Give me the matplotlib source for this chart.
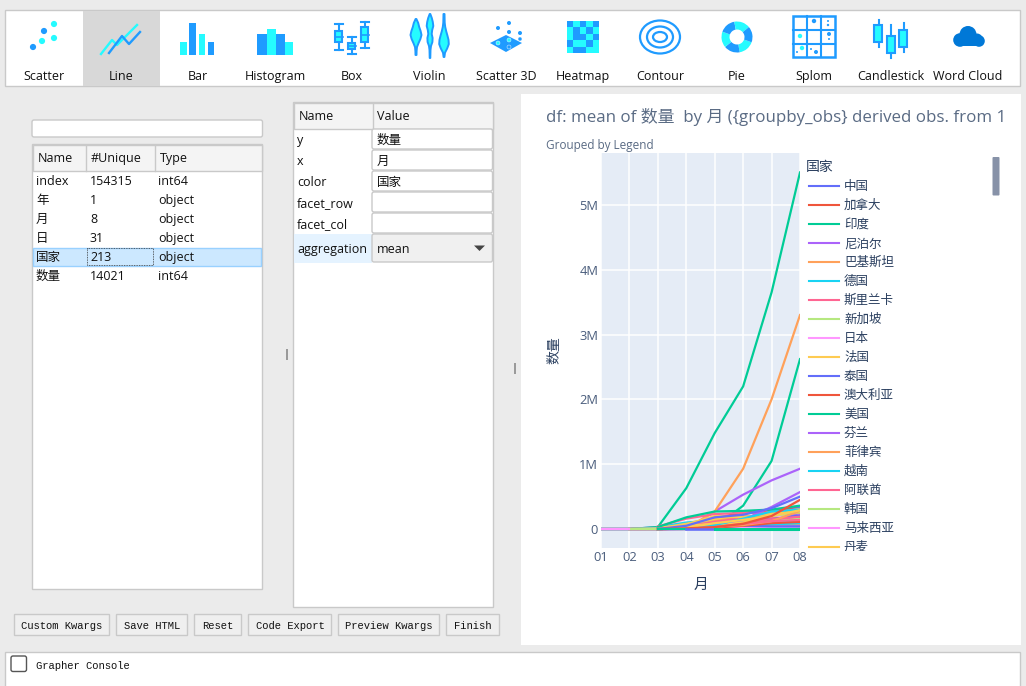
import numpy as np
import matplotlib
matplotlib.use('Agg')
import matplotlib.pyplot as plt
from matplotlib.patches import Rectangle, FancyBboxPatch, Circle, Ellipse, Polygon, Wedge

plt.rcParams['font.family'] = ['Open Sans', 'Noto Sans CJK SC', 'DejaVu Sans']

n = np.nan

# chart data, millions of cases per month
months = ['01', '02', '03', '04', '05', '06', '07', '08']
legend_names = ['中国', '加拿大', '印度', '尼泊尔', '巴基斯坦', '德国', '斯里兰卡', '新加坡', '日本', '法国',
                '泰国', '澳大利亚', '美国', '芬兰', '菲律宾', '越南', '阿联酋', '韩国', '马来西亚', '丹麦']
palette = ['#636EFA', '#EF553B', '#00CC96', '#AB63FA', '#FFA15A', '#19D3F3', '#FF6692', '#B6E880', '#FF97FF', '#FECB52']
y_ticks = [0, 1, 2, 3, 4, 5]
y_labels = ['0', '1M', '2M', '3M', '4M', '5M']

legend_rows = [
    [0, 0, 0.03, 0.05, 0.06, 0.07, 0.08, 0.09],
    [n, 0, 0.002, 0.02, 0.07, 0.10, 0.11, 0.12],
    [n, 0, 0.001, 0.002, 0.03, 0.36, 1.05, 2.62],
    [n, 0, 0, 0, 0, 0.002, 0.02, 0.05],
    [n, n, 0, 0.002, 0.02, 0.13, 0.26, 0.28],
    [0, 0, 0.01, 0.07, 0.16, 0.19, 0.20, 0.21],
    [0, 0, 0, 0, 0, 0.002, 0.003, 0.003],
    [0, 0, 0, 0.01, 0.02, 0.04, 0.05, 0.055],
    [0, 0, 0.001, 0.002, 0.015, 0.02, 0.03, 0.05],
    [n, 0, 0.02, 0.09, 0.16, 0.19, 0.20, 0.23],
    [0, 0, 0, 0.002, 0.003, 0.003, 0.003, 0.003],
    [0, 0, 0, 0.004, 0.007, 0.007, 0.01, 0.025],
    [0, 0, 0.03, 0.63, 1.48, 2.20, 3.65, 5.50],
    [n, 0, 0, 0.001, 0.006, 0.007, 0.007, 0.008],
    [n, 0, 0, 0.002, 0.01, 0.035, 0.09, 0.22],
    [0, 0, 0, 0, 0, 0, 0, 0.001],
    [n, 0, 0, 0, 0.02, 0.05, 0.06, 0.07],
    [0, 0, 0.01, 0.01, 0.011, 0.013, 0.014, 0.02],
    [0, 0, 0.003, 0.006, 0.008, 0.009, 0.009, 0.009],
    [n, n, 0.001, 0.009, 0.012, 0.013, 0.014, 0.017],
]
other_rows = [
    [n, n, 0.001, 0.03, 0.09, 0.17, 0.26, 0.31],
    [n, n, 0.01, 0.06, 0.17, 0.25, 0.29, 0.33],
    [n, n, 0.002, 0.01, 0.03, 0.05, 0.08, 0.10],
    [n, n, 0, 0.002, 0.27, 0.53, 0.75, 0.93],
    [n, n, 0, 0.005, 0.27, 0.93, 2.00, 3.30],
    [n, n, 0.03, 0.10, 0.13, 0.15, 0.21, 0.29],
    [n, n, 0.04, 0.16, 0.23, 0.25, 0.25, 0.29],
    [n, n, 0.002, 0.06, 0.12, 0.15, 0.17, 0.20],
    [n, n, 0, 0.01, 0.04, 0.10, 0.17, 0.24],
    [n, n, 0.01, 0.08, 0.15, 0.17, 0.21, 0.25],
    [n, n, 0, 0.02, 0.06, 0.12, 0.22, 0.33],
    [n, n, 0, 0.005, 0.03, 0.08, 0.16, 0.18],
    [n, n, 0, 0.01, 0.02, 0.06, 0.13, 0.15],
    [n, n, 0, 0.002, 0.02, 0.03, 0.11, 0.25],
    [n, n, 0, 0.03, 0.12, 0.19, 0.22, 0.25],
    [n, n, 0, 0.01, 0.03, 0.05, 0.10, 0.13],
    [n, n, 0.002, 0.04, 0.11, 0.17, 0.16, 0.16],
    [n, n, 0, 0.01, 0.05, 0.07, 0.12, 0.16],
    [n, n, 0, 0, 0.01, 0.03, 0.06, 0.09],
    [n, n, 0.01, 0.07, 0.20, 0.18, 0.24, 0.31],
    [n, n, 0, 0.02, 0.06, 0.14, 0.15, 0.21],
    [n, n, 0, 0.004, 0.01, 0.02, 0.05, 0.06],
    [n, n, 0, 0.01, 0.02, 0.04, 0.08, 0.11],
    [n, n, 0, 0.002, 0.008, 0.02, 0.04, 0.05],
    [n, n, 0, 0.005, 0.015, 0.03, 0.06, 0.08],
    [n, n, 0, 0.02, 0.04, 0.05, 0.07, 0.09],
    [n, n, 0, 0.03, 0.08, 0.12, 0.15, 0.19],
    [n, n, 0, 0.01, 0.05, 0.13, 0.20, 0.26],
    [n, n, 0, 0.002, 0.01, 0.02, 0.03, 0.035],
    [n, n, 0.02, 0.05, 0.08, 0.10, 0.22, 0.30],
    [n, n, 0, 0.01, 0.03, 0.05, 0.04, 0.04],
    [n, n, 0, 0.005, 0.02, 0.05, 0.09, 0.11],
    [n, n, 0.03, 0.18, 0.27, 0.28, 0.30, 0.36],
    [n, n, 0, 0.01, 0.08, 0.14, 0.34, 0.57],
    [n, n, 0, 0.02, 0.04, 0.06, 0.12, 0.28],
    [n, n, 0, 0.01, 0.06, 0.16, 0.27, 0.30],
    [n, n, 0, 0.005, 0.03, 0.08, 0.12, 0.14],
    [n, 0, 0, n, n, n, n, n],
    [0, 0, n, n, n, n, n, n],
    [n, n, 0, 0.02, 0.09, 0.14, 0.20, 0.29],
    [n, n, 0, 0.05, 0.18, 0.22, 0.32, 0.50],
    [n, n, 0, 0.01, 0.03, 0.08, 0.20, 0.45],
    [n, n, 0, 0, n, n, n, n],
]
blue_base = [n, n, n, 0, 0, n, n, n]
green_base = [n, n, n, n, 0, 0, 0, 0]

# window widgets
toolbar_labels = ['Scatter', 'Line', 'Bar', 'Histogram', 'Box', 'Violin', 'Scatter 3D', 'Heatmap',
                  'Contour', 'Pie', 'Splom', 'Candlestick', 'Word Cloud']
column_headers = ['Name', '#Unique', 'Type']
column_names = ['index', '年', '月', '日', '国家', '数量']
column_unique = ['154315', '1', '8', '31', '213', '14021']
column_types = ['int64', 'object', 'object', 'object', 'object', 'int64']
arg_names = ['y', 'x', 'color', 'facet_row', 'facet_col', 'aggregation']
arg_values = ['数量', '月', '国家', '', '', 'mean']
button_labels = ['Custom Kwargs', 'Save HTML', 'Reset', 'Code Export', 'Preview Kwargs', 'Finish']

BLUE = '#1f9bff'
CYAN = '#25fbff'
EDGE = '#c9c9c9'
INK = '#2a3f5f'

fig = plt.figure(figsize=(10.26, 6.86), dpi=100, facecolor='#ebebeb')
ui = fig.add_axes([0, 0, 1, 1])
ui.set_xlim(0, 1026)
ui.set_ylim(686, 0)
ui.axis('off')


def box(x0, y0, x1, y1, fc='white', ec=EDGE, lw=1, z=1):
    ui.add_patch(Rectangle((x0 - 0.5, y0 - 0.5), x1 - x0, y1 - y0, fc=fc, ec=ec, lw=lw, zorder=z))


def rbox(x0, y0, x1, y1, fc='white', ec=EDGE, lw=1, z=1):
    ui.add_patch(FancyBboxPatch((x0 + 1.5, y0 + 1.5), x1 - x0 - 4, y1 - y0 - 4, boxstyle='round,pad=2',
                                fc=fc, ec=ec, lw=lw, zorder=z))


def label(x, y, s, size=9, ha='left', color='#111111', **kw):
    ui.text(x, y + 0.6, s, fontsize=size, ha=ha, va='center', color=color, zorder=6, **kw)


def violin(cx, top, bot, widths):
    # widths run from top to bottom of the icon
    ys = np.linspace(top, bot, len(widths))
    pts = [(cx + w, y) for w, y in zip(widths, ys)] + [(cx - w, y) for w, y in zip(widths[::-1], ys[::-1])]
    ui.add_patch(Polygon(pts, closed=True, fc=CYAN, ec=BLUE, lw=1.4, joinstyle='round', zorder=3))


# toolbar
box(5.5, 10.5, 1020.5, 86.5)
box(83, 11, 160, 86, fc='#d8d8d8', ec='none')
for i, s in enumerate(toolbar_labels):
    label(44 + i * 77, 75.5, s, ha='center')

# scatter icon
for x, y, c in [(33, 47, BLUE), (42, 41, CYAN), (44, 31, BLUE), (54, 24, CYAN), (54, 38, CYAN)]:
    ui.add_patch(Circle((x, y), 3.1, fc=c, ec='none', zorder=3))
# line icon
ui.plot([101, 112, 117, 137], [54, 40, 45, 25], color=CYAN, lw=1.7, zorder=3)
ui.plot([109, 122, 129, 140], [53, 36, 44, 32], color=BLUE, lw=1.7, zorder=3)
# bar icon
for x0, top, c in [(180.5, 42, CYAN), (189.5, 23, BLUE), (199, 34, CYAN), (208, 42, BLUE)]:
    box(x0, top, x0 + 6.5, 55, fc=c, ec='none', z=3)
# histogram icon
for x0, x1, top, c in [(257, 267, 34, BLUE), (267, 276, 29.5, CYAN), (276, 285, 34, BLUE), (285, 293.5, 42.5, CYAN)]:
    box(x0, top, x1, 55, fc=c, ec='none', z=3)
# box icon
for cx, lo, hi, b0, b1 in [(339, 23.5, 50, 31.5, 42.5), (352, 37, 54, 43, 49), (365, 21.5, 48, 27.5, 42.5)]:
    ui.plot([cx, cx], [lo, hi], color=BLUE, lw=1.5, zorder=3)
    ui.plot([cx - 4, cx + 4], [lo, lo], color=BLUE, lw=1.5, zorder=3)
    ui.plot([cx - 4, cx + 4], [hi, hi], color=BLUE, lw=1.5, zorder=3)
    box(cx - 3.5, b0, cx + 3.5, b1, fc=CYAN, ec=BLUE, lw=1.5, z=4)
    ui.plot([cx - 3.5, cx + 3.5], [(b0 + b1) / 2] * 2, color=BLUE, lw=1.2, zorder=5)
# violin icon
violin(416, 19, 55, [0.4, 2.2, 3.2, 4.6, 5.5, 4.4, 2.6, 1, 0.6, 0.5])
violin(430, 14, 58, [0.3, 1.8, 2.8, 3.3, 2.2, 1.7, 2.6, 2.4, 1, 0.5, 0.4, 0.3])
violin(444, 14, 57, [0.5, 0.6, 0.7, 1.2, 2.2, 3.4, 4.5, 4.8, 3.2, 1, 0.4])
# scatter 3d icon
ui.add_patch(Polygon([(490, 43), (506, 35), (522, 43), (506, 52)], closed=True, fc=BLUE, ec='none', zorder=3))
for x, y, c in [(498, 28, BLUE), (509, 23, BLUE), (509, 32, BLUE), (520, 33, BLUE), (520, 39, BLUE),
                (498, 43, CYAN), (509, 40, CYAN), (509, 47, BLUE)]:
    ui.add_patch(Circle((x, y), 2, fc=c, ec='white' if y > 38 else 'none', lw=0.3, zorder=4))
# heatmap icon
heat_cells = [[1, 0, 1, 0, 1], [0, 1, 0, 1, 0], [0, 1, 1, 0, 1], [1, 0, 0, 1, 0], [0, 1, 1, 0, 0]]
for r, row in enumerate(heat_cells):
    for c, v in enumerate(row):
        box(567 + c * 6.5, 21 + r * 6.5, 573.5 + c * 6.5, 27.5 + r * 6.5, fc=BLUE if v else CYAN, ec='none', z=3)
# contour icon
for w, h, lw in [(40, 33, 1.6), (26, 21, 1.6), (14, 10, 1.6)]:
    ui.add_patch(Ellipse((660, 37), w, h, fc='none', ec=BLUE, lw=lw, zorder=3))
# pie icon
for k in range(6):
    ui.add_patch(Wedge((737, 37), 15.5, 20 + k * 60, 80 + k * 60, width=8, fc=BLUE if k % 2 else CYAN, ec='none', zorder=3))
# splom icon
box(793.5, 16.5, 835, 57, fc='white', ec=BLUE, lw=1.8, z=3)
for t in [807, 821]:
    ui.plot([t, t], [16, 56.5], color=BLUE, lw=1.5, zorder=4)
for t in [30, 43.5]:
    ui.plot([793, 834.5], [t, t], color=BLUE, lw=1.5, zorder=4)
for x, y, r, c in [(814, 21, 2.2, BLUE), (828, 21, 1, BLUE), (828, 25, 1.2, BLUE), (800, 36, 2.2, CYAN), (829, 34, 2, BLUE),
                   (829, 39, 1, BLUE), (802, 48, 2.2, CYAN), (797, 52, 1, BLUE), (816, 52, 2, BLUE), (811, 49, 1, BLUE)]:
    ui.add_patch(Circle((x, y), r, fc=c, ec='none', zorder=5))
# candlestick icon
for cx, b0, b1, w0, w1 in [(878.5, 25, 42, 19.5, 47), (891, 36, 53, 25, 58), (903.5, 30, 47, 23, 52)]:
    ui.plot([cx, cx], [w0, w1], color=BLUE, lw=1.5, zorder=3)
    box(cx - 4, b0, cx + 4, b1, fc=CYAN, ec=BLUE, lw=1.5, z=4)
# cloud icon
for x, y, r in [(960, 40, 6.8), (968, 34.5, 8.5), (977, 39, 5.5), (979, 41, 5.8)]:
    ui.add_patch(Circle((x, y), r, fc='#0078d7', ec='none', zorder=3))
box(960, 38, 979, 46.8, fc='#0078d7', ec='none', z=3)

# column list
rbox(32.5, 120.5, 263, 137.5)
box(32.5, 144.5, 262.5, 589.5)
box(33, 145, 262, 171, fc='#f4f4f4', ec=EDGE)
for x in [86, 155]:
    ui.plot([x, x], [145, 171], color=EDGE, lw=1, zorder=3)
for x, s in zip([38, 91, 160], column_headers):
    label(x, 158, s)
box(33.5, 248, 261.5, 266, fc='#cce8ff', ec='#99d1ff', z=2)
box(87.5, 248.5, 153.5, 265.5, fc='none', ec='#333333', lw=0.6, z=3)
ui.patches[-1].set_linestyle((0, (1, 1)))
for i in range(6):
    y = 181 + i * 19
    label(36, y, column_names[i])
    label(90, y, column_unique[i])
    label(158, y, column_types[i])

# argument table
box(293.5, 102.5, 493.5, 607.5)
box(294, 103, 493, 129, fc='#f4f4f4', ec=EDGE)
ui.plot([372.5, 372.5], [103, 129], color=EDGE, lw=1, zorder=3)
label(299, 116, 'Name')
label(377, 116, 'Value')
box(294, 234, 372, 263, fc='#e5f3ff', ec='none', z=2)
arg_tops = [129, 150, 171, 192, 213, 234]
arg_bots = [150, 171, 192, 213, 234, 263]
for i in range(6):
    mid = (arg_tops[i] + arg_bots[i]) / 2
    label(297, mid, arg_names[i])
    rbox(372.5, arg_tops[i] + 0.5, 493, arg_bots[i] - 0.5, fc='#f0f0f0' if i == 5 else 'white', z=3)
    label(377, mid, arg_values[i])
ui.add_patch(Polygon([(474, 245.5), (485, 245.5), (479.5, 251)], closed=True, fc='#444444', ec='none', zorder=6))

# splitter grips
box(286, 349, 288, 360, fc='#9a9a9a', ec='none')
box(514, 363, 516, 374, fc='#9a9a9a', ec='none')

# buttons
button_x0 = [14, 116, 194, 248, 338, 446]
button_x1 = [110, 188, 242, 332, 440, 500]
for x0, x1, s in zip(button_x0, button_x1, button_labels):
    box(x0 + 0.5, 614.5, x1 - 0.5, 635.5, fc='#efefef')
    label((x0 + x1) / 2, 625, s, size=7.6, ha='center', family=['Liberation Mono', 'DejaVu Sans Mono'])

# console
box(5.5, 652.5, 1020.5, 690)
rbox(11.5, 656.5, 27, 672, lw=1, ec='#555555', z=3)
label(36, 665, 'Grapher Console', size=7.6, family=['Liberation Mono', 'DejaVu Sans Mono'])

# plot panel
box(521, 94, 1021, 645, ec='none')
label(546, 116, 'df: mean of 数量  by 月 ({groupby_obs} derived obs. from 1', size=12.2, color='#5a6b84')
label(546, 144.5, 'Grouped by Legend', size=8.5, color='#5a6b84')
label(806, 166.5, '国家', size=10, color=INK)
for i, s in enumerate(legend_names):
    y = 186 + i * 19
    ui.plot([809, 839], [y, y], color=palette[i % 10], lw=1.5, zorder=3)
    label(844, y, s, size=9, color=INK)
box(800, 551.5, 1000, 566, ec='none', z=7)
ui.add_patch(FancyBboxPatch((993.5, 158), 5, 36.5, boxstyle='round,pad=1', fc='#8792a8', ec='none', zorder=7))

# chart
ax = fig.add_axes([601 / 1026, 1 - 548 / 686, 199 / 1026, 395 / 686], facecolor='#E5ECF6')
ax.set_xlim(0, 7)
ax.set_ylim(-0.293, 5.80)
ax.grid(True, color='white', lw=1.1)
ax.set_axisbelow(True)
for sp in ax.spines.values():
    sp.set_visible(False)
ax.set_xticks(range(len(months)))
ax.set_xticklabels(months, fontsize=9.3, color='#4a5d7c')
ax.set_yticks(y_ticks)
ax.set_yticklabels(y_labels, fontsize=9.3, color='#4a5d7c')
ax.tick_params(length=0, pad=2)
ax.axhline(0, color='white', lw=1.5, zorder=1)
x_pos = np.arange(len(months))
for i, row in enumerate(legend_rows + other_rows):
    ax.plot(x_pos, row, color=palette[i % 10], lw=1.6, solid_joinstyle='round', zorder=2 + i * 0.01)
ax.plot(x_pos, blue_base, color=palette[0], lw=1.8, zorder=3)
ax.plot(x_pos, green_base, color=palette[2], lw=2.2, zorder=3)
ax.set_xlabel('月', fontsize=10.5, color=INK, labelpad=10)
ax.set_ylabel('数量', fontsize=10, color=INK, labelpad=12)

fig.savefig('out.png', dpi=100, facecolor=fig.get_facecolor())
